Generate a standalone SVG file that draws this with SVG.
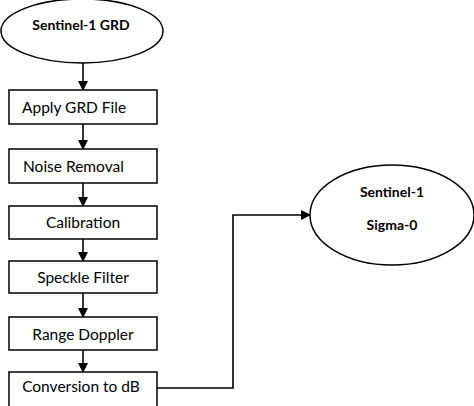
<svg xmlns="http://www.w3.org/2000/svg" width="474" height="406" viewBox="0 0 474 406">
<style>
.n{fill:#fff;stroke:#000;stroke-width:1.5}
.t{font-family:Lato,"Open Sans",sans-serif;font-size:15.5px;fill:#000}
.b{font-family:Lato,"Open Sans",sans-serif;font-size:14px;font-weight:bold;fill:#000}
.c{fill:none;stroke:#000;stroke-width:1.6}
</style>
<defs>
<marker id="ah" markerWidth="10" markerHeight="10" refX="9" refY="5" orient="auto" markerUnits="userSpaceOnUse">
<path d="M0,0 L10,5 L0,10 Z" fill="#000"/>
</marker>
</defs>
<rect width="474" height="406" fill="#fff"/>
<g id="connectors">
<line class="c" x1="83" y1="63" x2="83" y2="90" marker-end="url(#ah)"/>
<line class="c" x1="83" y1="124" x2="83" y2="149" marker-end="url(#ah)"/>
<line class="c" x1="83" y1="183" x2="83" y2="206" marker-end="url(#ah)"/>
<line class="c" x1="83" y1="239" x2="83" y2="261" marker-end="url(#ah)"/>
<line class="c" x1="83" y1="293" x2="83" y2="317" marker-end="url(#ah)"/>
<line class="c" x1="83" y1="350" x2="83" y2="372" marker-end="url(#ah)"/>
<polyline class="c" points="157,388 233,388 233,215 310,215" marker-end="url(#ah)"/>
</g>
<g id="n_grd">
<ellipse class="n" cx="82" cy="31" rx="81" ry="32"/>
<text class="b" x="81" y="30" text-anchor="middle">Sentinel-1 GRD</text>
</g>
<g id="n_apply">
<rect class="n" x="9" y="90" width="148" height="34"/>
<text class="t" x="22" y="113">Apply GRD File</text>
</g>
<g id="n_noise">
<rect class="n" x="9" y="149" width="148" height="34"/>
<text class="t" x="23" y="172">Noise Removal</text>
</g>
<g id="n_calib">
<rect class="n" x="9" y="206" width="148" height="33"/>
<text class="t" x="83" y="228" text-anchor="middle">Calibration</text>
</g>
<g id="n_speckle">
<rect class="n" x="9" y="261" width="148" height="32"/>
<text class="t" x="83" y="283" text-anchor="middle">Speckle Filter</text>
</g>
<g id="n_range">
<rect class="n" x="9" y="317" width="148" height="33"/>
<text class="t" x="83" y="340" text-anchor="middle">Range Doppler</text>
</g>
<g id="n_db">
<rect class="n" x="9" y="372" width="148" height="40"/>
<text class="t" x="81" y="392" text-anchor="middle">Conversion to dB</text>
</g>
<g id="n_sigma">
<ellipse class="n" cx="392" cy="215" rx="82" ry="50"/>
<text class="b" x="392" y="197" text-anchor="middle">Sentinel-1</text>
<text class="b" x="392" y="230" text-anchor="middle">Sigma-0</text>
</g>
</svg>
